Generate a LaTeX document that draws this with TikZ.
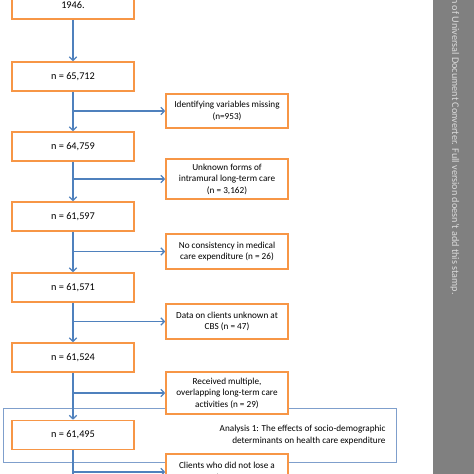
\documentclass[tikz,border=0pt]{standalone}
\usepackage{fontspec}
\setmainfont{Carlito}
\usetikzlibrary{arrows.meta}
\definecolor{boxorange}{HTML}{F79646}
\definecolor{arrowblue}{HTML}{4F81BD}
\definecolor{frameblue}{HTML}{7F9FCC}
\definecolor{stampgray}{HTML}{808080}
\definecolor{stamptext}{HTML}{DADADA}
\tikzset{
  leftbox/.style={draw=boxorange, line width=1.6pt, fill=white, minimum width=122pt, minimum height=29pt, inner sep=1pt, align=center, font=\fontsize{10.3}{12}\selectfont},
  rightbox/.style={draw=boxorange, line width=1.6pt, fill=white, minimum width=122pt, inner sep=1pt, align=center, font=\fontsize{9.2}{11.5}\selectfont},
  flow/.style={draw=arrowblue, line width=1.9pt, -{Straight Barb[length=3.5pt,width=7.5pt,line width=1.3pt]}},
  plainflow/.style={draw=arrowblue, line width=1.9pt},
}
\begin{document}
\begin{tikzpicture}[x=1pt,y=-1pt]
\useasboundingbox (0,0) rectangle (474,474);
\clip (0,0) rectangle (474,474);
% analysis frame
\node[draw=frameblue, line width=0.9pt, minimum width=393pt, minimum height=54pt, inner sep=0pt] (frame) at (199.5,435) {};
\node[align=right, anchor=east, font=\fontsize{9.2}{12}\selectfont] (atext) at (389,435) {Analysis 1: The effects of socio-demographic\\determinants on health care expenditure};
% left boxes
\node[leftbox, minimum height=49pt] (b1) at (73,-5.5) {};
\node[font=\fontsize{10.3}{12}\selectfont, inner sep=0pt] (b1text) at (73,5.5) {1946.};
\node[leftbox] (b2) at (73,76.5) {n = 65,712};
\node[leftbox] (b3) at (73,146.5) {n = 64,759};
\node[leftbox] (b4) at (73,216.5) {n = 61,597};
\node[leftbox] (b5) at (73,287.5) {n = 61,571};
\node[leftbox] (b6) at (73,357.5) {n = 61,524};
\node[leftbox] (b7) at (73,435) {n = 61,495};
\coordinate (bend) at (73,480);
% right boxes
\node[rightbox, minimum height=34pt] (r1) at (227,111) {Identifying variables missing\\(n=953)};
\node[rightbox, minimum height=40pt] (r2) at (227,179) {Unknown forms of\\intramural long-term care\\(n = 3,162)};
\node[rightbox, minimum height=35pt] (r3) at (227,251.5) {No consistency in medical\\care expenditure (n = 26)};
\node[rightbox, minimum height=35pt] (r4) at (227,321.5) {Data on clients unknown at\\CBS (n = 47)};
\node[rightbox, minimum height=42pt] (r5) at (227,393) {Received multiple,\\overlapping long-term care\\activities (n = 29)};
\node[rightbox, minimum height=36pt] (r6) at (227,472) {Clients who did not lose a\\spouse in 2004-2011};
% vertical flow
\draw[flow] (b1.south) -- (b2.north);
\draw[flow] (b2.south) -- (b3.north);
\draw[flow] (b3.south) -- (b4.north);
\draw[flow] (b4.south) -- (b5.north);
\draw[flow] (b5.south) -- (b6.north);
\draw[flow] (b6.south) -- (b7.north);
\draw[plainflow] (b7.south) -- (bend);
% branches
\draw[flow] (b2.south |- r1.west) -- (r1.west);
\draw[flow] (b3.south |- r2.west) -- (r2.west);
\draw[flow] (b4.south |- r3.west) -- (r3.west);
\draw[flow] (b5.south |- r4.west) -- (r4.west);
\draw[flow] (b6.south |- r5.west) -- (r5.west);
\draw[flow] (b7.south |- r6.west) -- (r6.west);
% stamp band
\fill[stampgray] (433,0) rectangle (474,474);
\node[rotate=-90, anchor=east, text=stamptext, inner sep=0pt, font=\fontsize{10.2}{12}\selectfont] (stamp) at (455,295) {This document was created with trial version of Universal Document Converter. Full version doesn't add this stamp.};
\end{tikzpicture}
\end{document}
